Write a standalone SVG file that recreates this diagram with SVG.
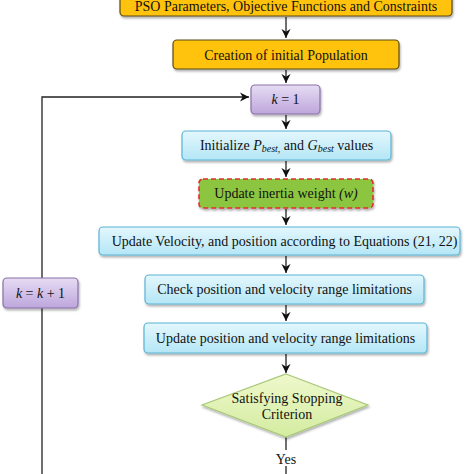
<svg xmlns="http://www.w3.org/2000/svg" width="474" height="474" viewBox="0 0 474 474">
<defs>
<style>
text{font-family:"Liberation Serif","Times New Roman",serif;font-size:14px;fill:#111;text-anchor:middle}
.con{stroke:#222;stroke-width:1.3;fill:none}
.y{fill:#FFC20E;stroke:#5a4a10;stroke-width:1.2}
.p{fill:url(#gp);stroke:#8a70a8;stroke-width:1.2}
.c{fill:url(#gc);stroke:#5bb4d4;stroke-width:1.2}
</style>
<linearGradient id="gp" x1="0" y1="0" x2="0" y2="1"><stop offset="0" stop-color="#e6dcf3"/><stop offset="1" stop-color="#bda6dc"/></linearGradient>
<linearGradient id="gc" x1="0" y1="0" x2="0" y2="1"><stop offset="0" stop-color="#e4f7fd"/><stop offset="1" stop-color="#b4e6f6"/></linearGradient>
<linearGradient id="gd" x1="0" y1="0" x2="0" y2="1"><stop offset="0" stop-color="#eef8cc"/><stop offset="1" stop-color="#d4eca0"/></linearGradient>
<filter id="sh" x="-10%" y="-20%" width="120%" height="150%"><feDropShadow dx="1" dy="2" stdDeviation="1.2" flood-color="#000" flood-opacity="0.3"/></filter>
<marker id="ah" viewBox="0 0 10 10" refX="10" refY="5" markerWidth="7" markerHeight="7" orient="auto"><path d="M0,0 L10,5 L0,10 L3,5 z" fill="#111"/></marker>
</defs>
<g id="connectors">
<line class="con" x1="286" y1="17" x2="286" y2="38" marker-end="url(#ah)"/>
<line class="con" x1="286" y1="70" x2="286" y2="83" marker-end="url(#ah)"/>
<line class="con" x1="286" y1="115" x2="286" y2="129" marker-end="url(#ah)"/>
<line class="con" x1="286" y1="161" x2="286" y2="177" marker-end="url(#ah)"/>
<line class="con" x1="286" y1="209" x2="286" y2="225" marker-end="url(#ah)"/>
<line class="con" x1="286" y1="256" x2="286" y2="273" marker-end="url(#ah)"/>
<line class="con" x1="286" y1="305" x2="286" y2="321" marker-end="url(#ah)"/>
<line class="con" x1="286" y1="354" x2="286" y2="373" marker-end="url(#ah)"/>
<line class="con" x1="286" y1="437" x2="286" y2="450"/>
<line class="con" x1="286" y1="466" x2="286" y2="474"/>
<polyline class="con" points="42,474 42,97 249,97" marker-end="url(#ah)"/>
<text x="286" y="464">Yes</text>
</g>
<g id="n1"><rect class="y" x="120" y="-12" width="332" height="28" rx="4" filter="url(#sh)"/><text x="286" y="11">PSO Parameters, Objective Functions and Constraints</text></g>
<g id="n2"><rect class="y" x="173" y="40" width="226" height="29" rx="4" filter="url(#sh)"/><text x="286" y="60">Creation of initial Population</text></g>
<g id="n3"><rect class="p" x="251" y="85" width="69" height="29" rx="4" filter="url(#sh)"/><text x="285.5" y="104"><tspan font-style="italic">k</tspan> = 1</text></g>
<g id="n4"><rect class="c" x="182" y="131" width="209" height="29" rx="4" filter="url(#sh)"/><text x="286.5" y="150">Initialize <tspan font-style="italic">P</tspan><tspan font-style="italic" font-size="10" dy="2">best,</tspan><tspan dy="-2"> and </tspan><tspan font-style="italic">G</tspan><tspan font-style="italic" font-size="10" dy="2">best</tspan><tspan dy="-2"> values</tspan></text></g>
<g id="n5"><rect x="199" y="179" width="174" height="29" rx="4" fill="#8cc63f" stroke="#e0302a" stroke-width="1.6" stroke-dasharray="5,3" filter="url(#sh)"/><text x="286" y="198">Update inertia weight <tspan font-style="italic">(w)</tspan></text></g>
<g id="n6"><rect class="c" x="99" y="227" width="361" height="28" rx="4" filter="url(#sh)"/><text x="284.5" y="246">Update Velocity, and position according to Equations (21, 22)</text></g>
<g id="n7"><rect class="c" x="145" y="275" width="279" height="29" rx="4" filter="url(#sh)"/><text x="284.5" y="294">Check position and velocity range limitations</text></g>
<g id="n8"><rect class="c" x="144" y="323" width="283" height="30" rx="4" filter="url(#sh)"/><text x="285.5" y="343">Update position and velocity range limitations</text></g>
<g id="n9"><polygon points="286,374 368,405 286,437 202,405" fill="url(#gd)" stroke="#a8c878" stroke-width="1.2" filter="url(#sh)"/><text x="287" y="403">Satisfying Stopping</text><text x="287" y="419">Criterion</text></g>
<g id="n10"><rect class="p" x="3" y="278" width="75" height="30" rx="4" filter="url(#sh)"/><text x="40.5" y="298"><tspan font-style="italic">k</tspan> = <tspan font-style="italic">k</tspan> + 1</text></g>
</svg>
